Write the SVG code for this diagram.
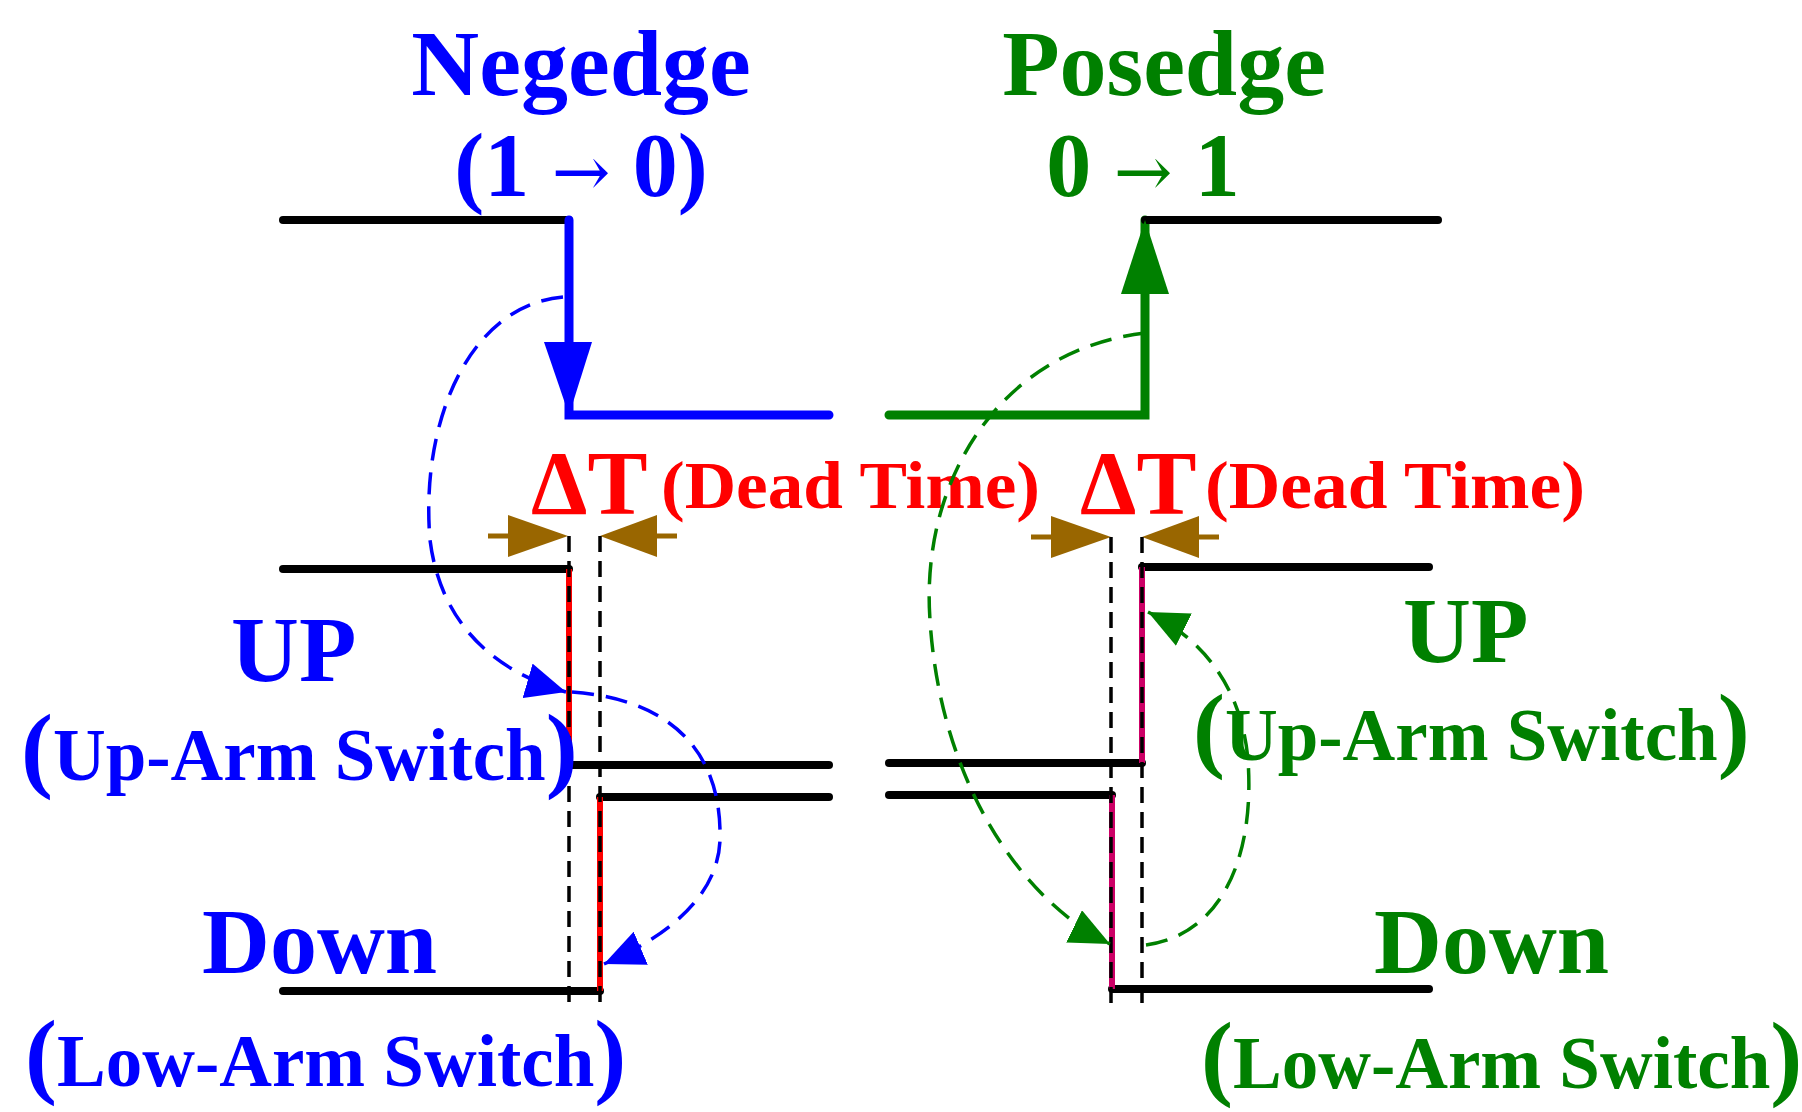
<svg xmlns="http://www.w3.org/2000/svg" width="1802" height="1112" viewBox="0 0 1802 1112">
<style>
text{font-family:"Liberation Serif","Times New Roman",serif;font-weight:bold}
.blk{stroke:#000;stroke-width:8;stroke-linecap:round;fill:none}
.dsh{stroke:#000;stroke-width:3.5;stroke-dasharray:16 9;fill:none}
.bc{stroke:#0000ff;stroke-width:3.5;stroke-dasharray:22 12;fill:none}
.gc{stroke:#008000;stroke-width:3.5;stroke-dasharray:22 12;fill:none}
.br{fill:#996600}
.ar{font-family:"DejaVu Serif",serif;font-weight:normal}
</style>
<defs>
<marker id="ab" viewBox="0 0 40 36" refX="40" refY="18" markerWidth="40" markerHeight="36" markerUnits="userSpaceOnUse" orient="auto"><path d="M0,0 L40,18 L0,36 Z" fill="#0000ff"/></marker>
<marker id="ag" viewBox="0 0 40 36" refX="40" refY="18" markerWidth="40" markerHeight="36" markerUnits="userSpaceOnUse" orient="auto"><path d="M0,0 L40,18 L0,36 Z" fill="#008000"/></marker>
</defs>
<g id="titles">
<text x="581" y="95" font-size="94" fill="#0000ff" text-anchor="middle">Negedge</text>
<text x="581" y="196" font-size="90" fill="#0000ff" text-anchor="middle">(1 <tspan class="ar" font-size="70">→</tspan> 0)</text>
<text x="1164" y="95" font-size="94" fill="#008000" text-anchor="middle">Posedge</text>
<text x="1143" y="196" font-size="90" fill="#008000" text-anchor="middle">0 <tspan class="ar" font-size="70">→</tspan> 1</text>
</g>
<g id="edges">
<line class="blk" x1="283" y1="220" x2="569" y2="220"/>
<path d="M569 220 V415 H829" stroke="#0000ff" stroke-width="9" fill="none" stroke-linecap="round"/>
<path d="M544 342 L592 342 L569 415 Z" fill="#0000ff"/>
<path d="M889 415 H1145 V220" stroke="#008000" stroke-width="9" fill="none" stroke-linecap="round"/>
<line class="blk" x1="1145" y1="220" x2="1438" y2="220"/>
<path d="M1121 294 L1169 294 L1145 220 Z" fill="#008000"/>
</g>
<g id="deadtime">
<text x="531" y="514" font-size="90" fill="#ff0000">ΔT</text>
<text x="661" y="508" font-size="68" fill="#ff0000" textLength="379" lengthAdjust="spacingAndGlyphs">(Dead Time)</text>
<text x="1080" y="514" font-size="90" fill="#ff0000">ΔT</text>
<text x="1205" y="508" font-size="68" fill="#ff0000" textLength="380" lengthAdjust="spacingAndGlyphs">(Dead Time)</text>
<line x1="488" y1="536" x2="540" y2="536" stroke="#996600" stroke-width="5"/>
<path class="br" d="M508 515 L568 536 L508 557 Z"/>
<line x1="630" y1="536" x2="677" y2="536" stroke="#996600" stroke-width="5"/>
<path class="br" d="M657 515 L600 536 L657 557 Z"/>
<line x1="1031" y1="537" x2="1080" y2="537" stroke="#996600" stroke-width="5"/>
<path class="br" d="M1051 516 L1111 537 L1051 558 Z"/>
<line x1="1170" y1="537" x2="1219" y2="537" stroke="#996600" stroke-width="5"/>
<path class="br" d="M1199 516 L1142 537 L1199 558 Z"/>
</g>
<g id="left-switch">
<line class="blk" x1="283" y1="569" x2="569" y2="569"/>
<line class="blk" x1="569" y1="765" x2="829" y2="765"/>
<line class="blk" x1="600" y1="797" x2="829" y2="797"/>
<line class="blk" x1="283" y1="991" x2="600" y2="991"/>
<line x1="569" y1="569" x2="569" y2="765" stroke="#ff0000" stroke-width="6"/>
<line x1="600" y1="797" x2="600" y2="991" stroke="#ff0000" stroke-width="6"/>
<line class="dsh" x1="569" y1="536" x2="569" y2="1005"/>
<line class="dsh" x1="600" y1="536" x2="600" y2="1005"/>
<text x="231" y="681" font-size="94" fill="#0000ff">UP</text>
<text x="21" y="780" font-size="73" fill="#0000ff"><tspan font-size="96">(</tspan>Up-Arm Switch<tspan font-size="96">)</tspan></text>
<text x="202" y="973" font-size="94" fill="#0000ff">Down</text>
<text x="25" y="1086" font-size="73" fill="#0000ff"><tspan font-size="96">(</tspan>Low-Arm Switch<tspan font-size="96">)</tspan></text>
</g>
<g id="right-switch">
<line class="blk" x1="1142" y1="567" x2="1429" y2="567"/>
<line class="blk" x1="889" y1="763" x2="1142" y2="763"/>
<line class="blk" x1="889" y1="795" x2="1112" y2="795"/>
<line class="blk" x1="1112" y1="989" x2="1429" y2="989"/>
<line x1="1142" y1="567" x2="1142" y2="763" stroke="#cc0066" stroke-width="6"/>
<line x1="1112" y1="795" x2="1112" y2="989" stroke="#cc0066" stroke-width="6"/>
<line class="dsh" x1="1111" y1="537" x2="1111" y2="1003"/>
<line class="dsh" x1="1142" y1="537" x2="1142" y2="1003"/>
<text x="1403" y="662" font-size="94" fill="#008000">UP</text>
<text x="1193" y="760" font-size="73" fill="#008000"><tspan font-size="96">(</tspan>Up-Arm Switch<tspan font-size="96">)</tspan></text>
<text x="1374" y="973" font-size="94" fill="#008000">Down</text>
<text x="1201" y="1088" font-size="73" fill="#008000"><tspan font-size="96">(</tspan>Low-Arm Switch<tspan font-size="96">)</tspan></text>
</g>
<g id="connectors">
<path class="bc" d="M563 297 C470 305 420 420 430 540 C440 620 490 670 566 692" marker-end="url(#ab)"/>
<path class="bc" d="M572 692 C680 700 722 760 720 840 C718 900 660 940 604 964" marker-end="url(#ab)"/>
<path class="gc" d="M1145 333 C1000 350 920 480 930 620 C940 780 1020 900 1110 944" marker-end="url(#ag)"/>
<path class="gc" d="M1146 945 C1220 935 1255 860 1248 760 C1242 690 1205 640 1148 612" marker-end="url(#ag)"/>
</g>
</svg>
